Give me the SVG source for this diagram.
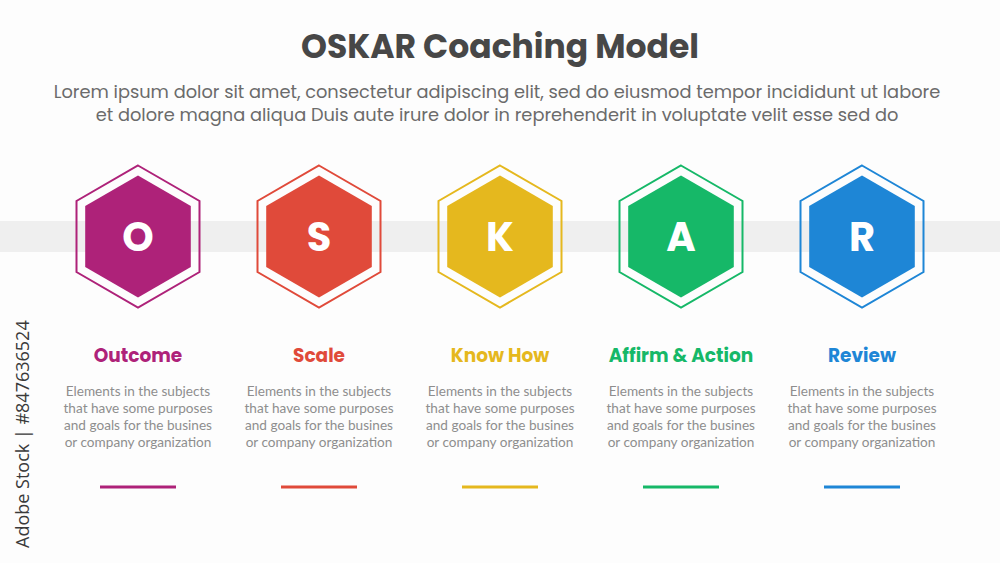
<svg xmlns="http://www.w3.org/2000/svg" width="1000" height="563" viewBox="0 0 1000 563">
<defs>
<style>
.title{font-family:"Poppins","Noto Sans","Open Sans",sans-serif;font-weight:700;font-size:33px;fill:#474747;text-anchor:middle}
.sub{font-family:"Poppins","Noto Sans","Open Sans",sans-serif;font-size:17.8px;fill:#6b6b6b;text-anchor:middle}
.letter{font-family:"Poppins","Noto Sans","Open Sans",sans-serif;font-weight:700;font-size:40px;fill:#fff;text-anchor:middle}
.lbl{font-family:"Poppins","Noto Sans","Open Sans",sans-serif;font-weight:700;font-size:18.5px;text-anchor:middle}
.desc{font-family:"Lato","Open Sans",sans-serif;font-weight:400;font-size:13.6px;fill:#8e8e8e;text-anchor:middle}
.outer{fill:none;stroke-width:2}
.wm{font-family:"Open Sans","Noto Sans",sans-serif;font-size:18px;fill:#3a3a3a}
</style>
<polygon id="hexO" points="0,-71 61.5,-35.5 61.5,35.5 0,71 -61.5,35.5 -61.5,-35.5"/>
<polygon id="hexI" points="0,-61 52.8,-30.5 52.8,30.5 0,61 -52.8,30.5 -52.8,-30.5"/>
</defs>
<rect width="1000" height="563" fill="#fdfdfd"/>
<rect x="0" y="221" width="1000" height="31" fill="#efefef"/>
<text class="title" x="500" y="58">OSKAR Coaching Model</text>
<text class="sub" x="497" y="97.5">Lorem ipsum dolor sit amet, consectetur adipiscing elit, sed do eiusmod tempor incididunt ut labore</text>
<text class="sub" x="497" y="121">et dolore magna aliqua Duis aute irure dolor in reprehenderit in voluptate velit esse sed do</text>
<text class="wm" transform="translate(29,548) rotate(-90)">Adobe Stock | #847636524</text>
<g id="connectors"></g>
<g id="node-o" transform="translate(138,236.5)">
<use href="#hexO" class="outer" stroke="#ae2279"/>
<use href="#hexI" fill="#ae2279"/>
<text class="letter" x="0" y="14">O</text>
<text class="lbl" x="0" y="125" fill="#ae2279">Outcome</text>
<text class="desc" x="0" y="159">Elements in the subjects</text>
<text class="desc" x="0" y="176">that have some purposes</text>
<text class="desc" x="0" y="193">and goals for the  busines</text>
<text class="desc" x="0" y="210">or company organization</text>
<rect x="-38" y="249" width="76" height="3" fill="#ae2279"/>
</g>
<g id="node-s" transform="translate(319,236.5)">
<use href="#hexO" class="outer" stroke="#e04a3a"/>
<use href="#hexI" fill="#e04a3a"/>
<text class="letter" x="0" y="14">S</text>
<text class="lbl" x="0" y="125" fill="#e04a3a">Scale</text>
<text class="desc" x="0" y="159">Elements in the subjects</text>
<text class="desc" x="0" y="176">that have some purposes</text>
<text class="desc" x="0" y="193">and goals for the  busines</text>
<text class="desc" x="0" y="210">or company organization</text>
<rect x="-38" y="249" width="76" height="3" fill="#e04a3a"/>
</g>
<g id="node-k" transform="translate(500,236.5)">
<use href="#hexO" class="outer" stroke="#e5b81e"/>
<use href="#hexI" fill="#e5b81e"/>
<text class="letter" x="0" y="14">K</text>
<text class="lbl" x="0" y="125" fill="#e5b81e">Know How</text>
<text class="desc" x="0" y="159">Elements in the subjects</text>
<text class="desc" x="0" y="176">that have some purposes</text>
<text class="desc" x="0" y="193">and goals for the  busines</text>
<text class="desc" x="0" y="210">or company organization</text>
<rect x="-38" y="249" width="76" height="3" fill="#e5b81e"/>
</g>
<g id="node-a" transform="translate(681,236.5)">
<use href="#hexO" class="outer" stroke="#16b868"/>
<use href="#hexI" fill="#16b868"/>
<text class="letter" x="0" y="14">A</text>
<text class="lbl" x="0" y="125" fill="#16b868">Affirm &amp; Action</text>
<text class="desc" x="0" y="159">Elements in the subjects</text>
<text class="desc" x="0" y="176">that have some purposes</text>
<text class="desc" x="0" y="193">and goals for the  busines</text>
<text class="desc" x="0" y="210">or company organization</text>
<rect x="-38" y="249" width="76" height="3" fill="#16b868"/>
</g>
<g id="node-r" transform="translate(862,236.5)">
<use href="#hexO" class="outer" stroke="#1e86d6"/>
<use href="#hexI" fill="#1e86d6"/>
<text class="letter" x="0" y="14">R</text>
<text class="lbl" x="0" y="125" fill="#1e86d6">Review</text>
<text class="desc" x="0" y="159">Elements in the subjects</text>
<text class="desc" x="0" y="176">that have some purposes</text>
<text class="desc" x="0" y="193">and goals for the  busines</text>
<text class="desc" x="0" y="210">or company organization</text>
<rect x="-38" y="249" width="76" height="3" fill="#1e86d6"/>
</g>
</svg>
